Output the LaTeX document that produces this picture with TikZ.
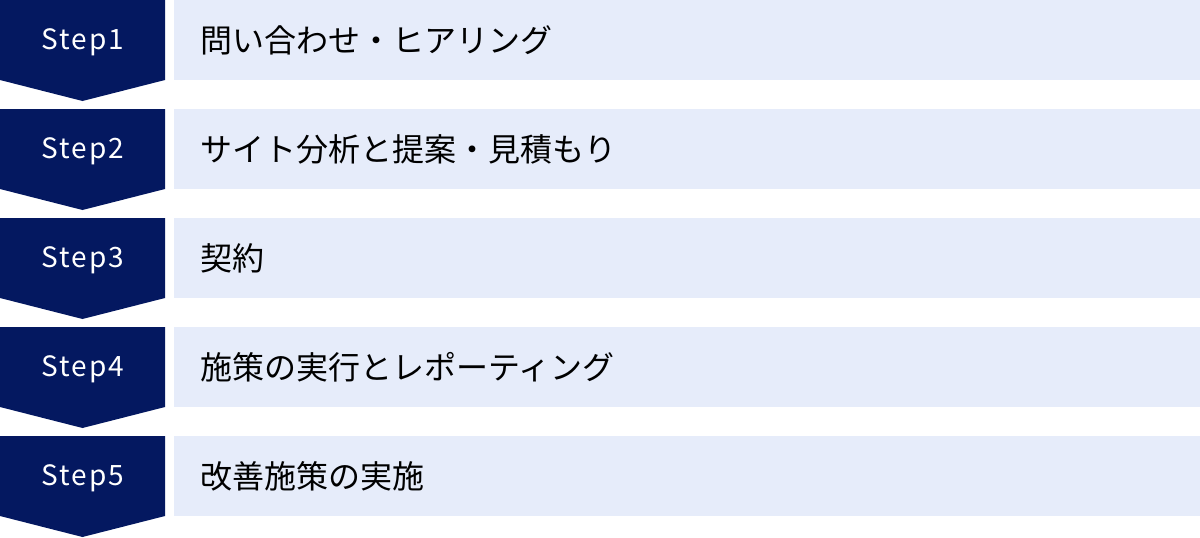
\documentclass[tikz,border=0pt]{standalone}
\usepackage{fontspec}
\setmainfont{Noto Sans CJK JP}
\newfontfamily\stepfont[LetterSpace=7]{Noto Sans CJK JP}
\definecolor{navy}{RGB}{4,24,96}
\definecolor{lightbg}{RGB}{230,236,250}
\begin{document}
\begin{tikzpicture}[x=1pt,y=-1pt,
  chev/.style={fill=navy},
  bar/.style={fill=lightbg},
  steplbl/.style={text=white,font=\stepfont\fontsize{28}{28}\selectfont,anchor=center,inner sep=0pt},
  desc/.style={text=black,font=\fontsize{32}{32}\selectfont,anchor=west,inner sep=0pt}]
\useasboundingbox (0,0) rectangle (1200,538);
\foreach \i/\t in {1/問い合わせ・ヒアリング,2/サイト分析と提案・見積もり,3/契約,4/施策の実行とレポーティング,5/改善施策の実施}{
  \pgfmathsetmacro{\y}{(\i-1)*109}
  \fill[chev] (0,\y) -- (165,\y) -- (165,\y+80) -- (82.5,\y+101) -- (0,\y+80) -- cycle;
  \fill[bar] (174,\y) rectangle (1200,\y+80);
  \node[steplbl] (s\i) at (83,\y+42) {Step\i};
  \node[desc] (d\i) at (200,\y+40) {\t};
}
\end{tikzpicture}
\end{document}
